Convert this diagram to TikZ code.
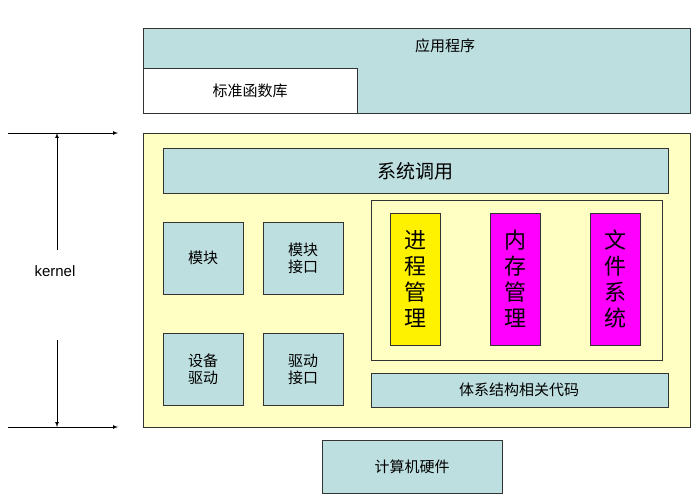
\documentclass[tikz,border=0pt]{standalone}
\usepackage{fontspec}
\setmainfont{Noto Sans CJK SC}
\newfontfamily\latin{Liberation Sans}
\begin{document}
\begin{tikzpicture}[x=1pt,y=-1pt]
\definecolor{tl}{HTML}{BEDFE0}
\definecolor{yl}{HTML}{FFFFC4}
\definecolor{mg}{HTML}{FF00FF}
\tikzset{box/.style={draw=black!80,line width=0.8pt,fill=tl},
 lbl/.style={font=\fontsize{15}{17}\selectfont},
 big/.style={font=\fontsize{22}{26}\selectfont},
 arr/.style={-latex,line width=0.7pt}}
\useasboundingbox (0,0) rectangle (697,500);
\fill[box] (143,28) rectangle (690,113);
\node[lbl] (app) at (445,46) {应用程序};
\draw[box,fill=white] (143,68) rectangle (357,113);
\node[lbl] (lib) at (250,91) {标准函数库};
\draw[box,fill=yl] (143,133) rectangle (690,427);
\draw[box] (163,148) rectangle (668,193);
\node[lbl,font=\fontsize{19}{22}\selectfont] (sys) at (415,171) {系统调用};
\draw[box] (163,222) rectangle (243,294);
\node[lbl] (mk) at (203,258) {模块};
\draw[box] (263,222) rectangle (343,294);
\node[lbl,align=center] (mki) at (303,258) {模块\\接口};
\draw[box] (163,333) rectangle (243,405);
\node[lbl,align=center] (dev) at (203,369) {设备\\驱动};
\draw[box] (263,333) rectangle (343,405);
\node[lbl,align=center] (drv) at (303,369) {驱动\\接口};
\draw[black!80,line width=0.8pt] (371,200) rectangle (662,360);
\draw[box,fill=yellow] (390,213) rectangle (440,345);
\node[big,align=center] (proc) at (415,279) {进\\程\\管\\理};
\draw[box,fill=mg] (490,213) rectangle (540,345);
\node[big,align=center] (mem) at (515,279) {内\\存\\管\\理};
\draw[box,fill=mg] (590,213) rectangle (640,345);
\node[big,align=center] (fs) at (615,279) {文\\件\\系\\统};
\draw[box] (371,373) rectangle (668,407);
\node[lbl] (arch) at (519,390) {体系结构相关代码};
\draw[box] (322,440) rectangle (502,493);
\node[lbl] (hw) at (412,467) {计算机硬件};
\coordinate (a1) at (8,133); \coordinate (a2) at (118,133);
\coordinate (b1) at (8,427); \coordinate (b2) at (118,427);
\coordinate (v1) at (57,250); \coordinate (v2) at (57,133);
\coordinate (w1) at (57,340); \coordinate (w2) at (57,427);
\draw[arr] (a1) -- (a2);
\draw[arr] (b1) -- (b2);
\draw[arr] (v1) -- (v2);
\draw[arr] (w1) -- (w2);
\node[font=\latin\fontsize{15}{17}\selectfont] (k) at (55,271) {kernel};
\end{tikzpicture}
\end{document}
